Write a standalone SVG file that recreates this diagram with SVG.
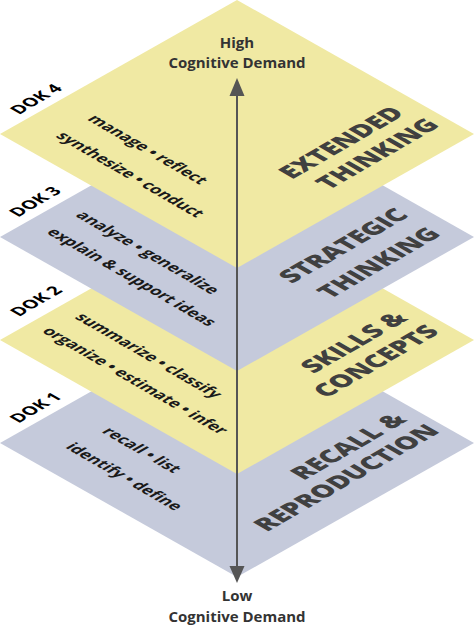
<svg xmlns="http://www.w3.org/2000/svg" width="474" height="625" viewBox="0 0 474 625">
<style>
.yel{fill:#F0E9A3}
.blu{fill:#C5CADB}
.dok{font-family:"Open Sans","Noto Sans",sans-serif;font-weight:700;font-size:17px;fill:#000;text-anchor:middle}
.lst{font-family:"Open Sans","Noto Sans",sans-serif;font-weight:700;font-size:16px;fill:#1a1a1a;text-anchor:middle}
.big{font-family:"Open Sans","Noto Sans",sans-serif;font-weight:800;font-size:25px;fill:#404040;text-anchor:middle}
.cap{font-family:"Open Sans","Noto Sans",sans-serif;font-weight:700;font-size:15px;fill:#333;text-anchor:middle}
.arr{stroke:#555;stroke-width:2;fill:none}
.head{fill:#555}
</style>
<rect width="474" height="625" fill="#fff"/>
<g id="dok1">
<polygon class="blu" points="237,309 474,443 237,577 0,443"/>
<g transform="translate(35.5,407.5)"><text class="dok" transform="matrix(0.866,-0.5,0.866,0.5,0,0)" y="6">DOK 1</text></g>
<g transform="translate(141,450.5)"><text class="lst" transform="matrix(0.866,0.5,-0.866,0.5,0,0)" y="4.5">recall • list</text></g>
<g transform="translate(123.5,477)"><text class="lst" transform="matrix(0.866,0.5,-0.866,0.5,0,0)" y="4.5">identify • define</text></g>
<g transform="translate(348,446)"><text class="big" transform="matrix(0.866,-0.5,0.866,0.5,0,0)" y="9">RECALL &amp;</text></g>
<g transform="translate(346,477.5)"><text class="big" transform="matrix(0.866,-0.5,0.866,0.5,0,0)" y="9">REPRODUCTION</text></g>
</g>
<g id="dok2">
<polygon class="yel" points="237,206 474,340 237,474 0,340"/>
<g transform="translate(36,301)"><text class="dok" transform="matrix(0.866,-0.5,0.866,0.5,0,0)" y="6">DOK 2</text></g>
<g transform="translate(148,356)"><text class="lst" transform="matrix(0.866,0.5,-0.866,0.5,0,0)" y="4.5">summarize • classify</text></g>
<g transform="translate(134.5,381)"><text class="lst" transform="matrix(0.866,0.5,-0.866,0.5,0,0)" y="4.5">organize • estimate • infer</text></g>
<g transform="translate(353.5,342)"><text class="big" transform="matrix(0.866,-0.5,0.866,0.5,0,0)" y="9">SKILLS &amp;</text></g>
<g transform="translate(375.5,361)"><text class="big" transform="matrix(0.866,-0.5,0.866,0.5,0,0)" y="9">CONCEPTS</text></g>
</g>
<g id="dok3">
<polygon class="blu" points="237,103 474,237 237,371 0,237"/>
<g transform="translate(35,201.5)"><text class="dok" transform="matrix(0.866,-0.5,0.866,0.5,0,0)" y="6">DOK 3</text></g>
<g transform="translate(147,253)"><text class="lst" transform="matrix(0.866,0.5,-0.866,0.5,0,0)" y="4.5">analyze • generalize</text></g>
<g transform="translate(131,277.5)"><text class="lst" transform="matrix(0.866,0.5,-0.866,0.5,0,0)" y="4.5">explain &amp; support ideas</text></g>
<g transform="translate(343,245.5)"><text class="big" transform="matrix(0.866,-0.5,0.866,0.5,0,0)" y="9">STRATEGIC</text></g>
<g transform="translate(378.5,262.5)"><text class="big" transform="matrix(0.866,-0.5,0.866,0.5,0,0)" y="9">THINKING</text></g>
</g>
<g id="dok4">
<polygon class="yel" points="237,0 474,134 237,268 0,134"/>
<g transform="translate(36,99)"><text class="dok" transform="matrix(0.866,-0.5,0.866,0.5,0,0)" y="6">DOK 4</text></g>
<g transform="translate(147,150)"><text class="lst" transform="matrix(0.866,0.5,-0.866,0.5,0,0)" y="4.5">manage • reflect</text></g>
<g transform="translate(129.5,175)"><text class="lst" transform="matrix(0.866,0.5,-0.866,0.5,0,0)" y="4.5">synthesize • conduct</text></g>
<g transform="translate(341,142.5)"><text class="big" transform="matrix(0.866,-0.5,0.866,0.5,0,0)" y="9">EXTENDED</text></g>
<g transform="translate(377,153.5)"><text class="big" transform="matrix(0.866,-0.5,0.866,0.5,0,0)" y="9">THINKING</text></g>
</g>
<g id="high">
<text class="cap" x="237" y="47.5">High</text>
<text class="cap" x="237" y="68">Cognitive Demand</text>
</g>
<g id="low">
<text class="cap" x="237" y="601">Low</text>
<text class="cap" x="237" y="621.5">Cognitive Demand</text>
</g>
<g id="connectors">
<line class="arr" x1="237" y1="94" x2="237" y2="568"/>
<polygon class="head" points="237,78 244.5,96 229.5,96"/>
<polygon class="head" points="237,583 244.5,566 229.5,566"/>
</g>
</svg>
